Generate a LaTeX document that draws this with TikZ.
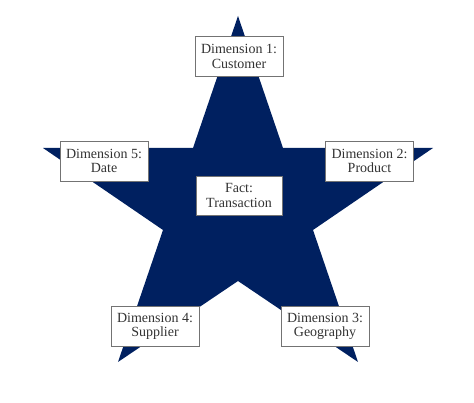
\documentclass[tikz,border=0pt]{standalone}
\usepackage{fontspec}
\setmainfont{Liberation Serif}
\begin{document}
\begin{tikzpicture}[x=1pt,y=-1pt,
  dimbox/.style={draw=black!55,line width=0.8pt,fill=white,minimum width=88pt,minimum height=40pt,
    align=center,inner sep=0pt,font=\fontsize{14}{14.5}\selectfont,text=black!80},
]
\definecolor{starblue}{RGB}{0,32,96}
\useasboundingbox (0,0) rectangle (474,403);
\fill[starblue] (238,16) -- (283,148) -- (433,148) -- (313,230) -- (358,362) -- (238,281)
  -- (118,362) -- (163,230) -- (43,148) -- (193,148) -- cycle;
\node[dimbox] (d1) at (239,56.5) {Dimension 1:\\Customer};
\node[dimbox] (d5) at (104,161) {Dimension 5:\\Date};
\node[dimbox] (d2) at (369.5,161) {Dimension 2:\\Product};
\node[dimbox,minimum width=86pt,minimum height=39pt] (f) at (239,195.5) {Fact:\\Transaction};
\node[dimbox] (d4) at (155,326.5) {Dimension 4:\\Supplier};
\node[dimbox] (d3) at (325,326.5) {Dimension 3:\\Geography};
\end{tikzpicture}
\end{document}
